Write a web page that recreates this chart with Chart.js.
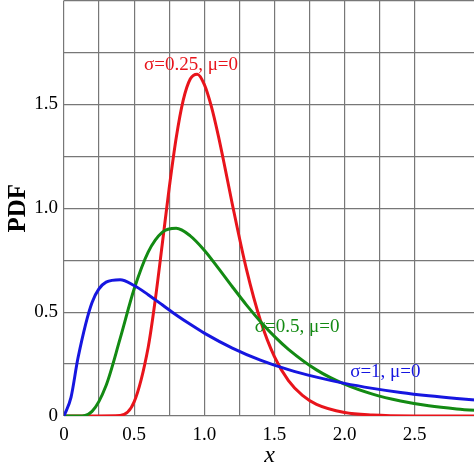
<!DOCTYPE html>
<html><head><meta charset="utf-8">
<script src="https://cdn.jsdelivr.net/npm/chart.js@4"></script>
<style>html,body{margin:0;padding:0;background:#fff;overflow:hidden;width:474px;height:474px}#w{position:absolute;left:0;top:-17px;width:483px;height:491px}</style>
</head><body><div id="w"><canvas id="c"></canvas></div>
<script>
const xBlue=[0,0.05,0.1,0.2,0.3,0.4,0.5,0.6,0.7,0.8,0.9,1.0,1.2,1.4,1.6,1.8,2.0,2.2,2.4,2.6,2.8,3.0];
const yBlue=[0,0.09,0.28,0.546,0.644,0.656,0.628,0.584,0.535,0.486,0.441,0.399,0.327,0.269,0.223,0.187,0.157,0.133,0.113,0.097,0.084,0.073];
const xGreen=[0,0.1,0.2,0.3,0.4,0.5,0.6,0.7,0.8,0.9,1.0,1.1,1.2,1.3,1.4,1.5,1.6,1.8,2.0,2.2,2.4,2.6,2.8,3.0];
const yGreen=[0,0.0002,0.0225,0.147,0.372,0.611,0.789,0.884,0.903,0.867,0.798,0.712,0.622,0.535,0.455,0.383,0.321,0.222,0.153,0.105,0.072,0.049,0.034,0.024];
const xRed=[0,0.4,0.5,0.6,0.65,0.7,0.75,0.8,0.85,0.9,0.95,1.0,1.05,1.1,1.15,1.2,1.3,1.4,1.5,1.6,1.7,1.8,2.0,2.2,2.5,3.0];
const yRed=[0,0.003,0.068,0.33,0.556,0.824,1.097,1.339,1.52,1.622,1.645,1.596,1.491,1.349,1.187,1.019,0.708,0.461,0.286,0.170,0.099,0.056,0.017,0.005,0.0005,0];
const xTicks=[0,0.5,1.0,1.5,2.0,2.5];
const yTicks=[0,0.5,1.0,1.5];
const labels=[{t:"σ=0.25, μ=0",x:0.57,y:1.69,c:"#e8141b"},{t:"σ=0.5, μ=0",x:1.36,y:0.43,c:"#138a13"},{t:"σ=1, μ=0",x:2.04,y:0.21,c:"#1616e0"}];
const pts=(xs,ys)=>xs.map((x,i)=>({x,y:ys[i]}));
const ds=(xs,ys,c)=>({data:pts(xs,ys),borderColor:c,borderWidth:3,pointRadius:0,showLine:true,cubicInterpolationMode:'monotone',fill:false});
const serif="'Liberation Serif', 'DejaVu Serif', serif";
const lab={id:'lab',afterDatasetsDraw(ch){const {ctx,scales:{x,y}}=ch;ctx.save();ctx.font="19px "+serif;ctx.textBaseline='middle';labels.forEach(l=>{ctx.fillStyle=l.c;ctx.fillText(l.t,x.getPixelForValue(l.x),y.getPixelForValue(l.y));});ctx.restore();}};
new Chart(document.getElementById('c'),{type:'scatter',
data:{datasets:[ds(xBlue,yBlue,'#1616e0'),ds(xGreen,yGreen,'#138a13'),ds(xRed,yRed,'#e8141b')]},
options:{responsive:true,maintainAspectRatio:false,animation:false,
layout:{padding:0},
plugins:{legend:{display:false},tooltip:{enabled:false}},
scales:{
x:{type:'linear',min:0,max:2.93,afterFit:s=>{s.height=58;},grid:{color:'#777',lineWidth:1.2,drawTicks:false},border:{display:false},
ticks:{stepSize:0.25,autoSkip:false,padding:8,color:'#000',font:{family:serif,size:19},callback:v=>{const m=xTicks.find(t=>Math.abs(t-v)<1e-6);return m===undefined?'':(m===0?'0':m.toFixed(1));}},
title:{display:true,text:'x',color:'#000',font:{family:serif,size:24,style:'italic'},padding:{top:0,bottom:4}}},
y:{type:'linear',min:0,max:2.0,afterFit:s=>{s.width=64;},grid:{color:'#777',lineWidth:1.2,drawTicks:false},border:{display:false},
ticks:{stepSize:0.25,autoSkip:false,padding:6,color:'#000',font:{family:serif,size:19},callback:v=>{const m=yTicks.find(t=>Math.abs(t-v)<1e-6);return m===undefined?'':(m===0?'0':m.toFixed(1));}},
title:{display:true,text:'PDF',color:'#000',font:{family:serif,size:25,weight:'bold'},padding:{bottom:2}}}
}},plugins:[lab]});
</script></body></html>
